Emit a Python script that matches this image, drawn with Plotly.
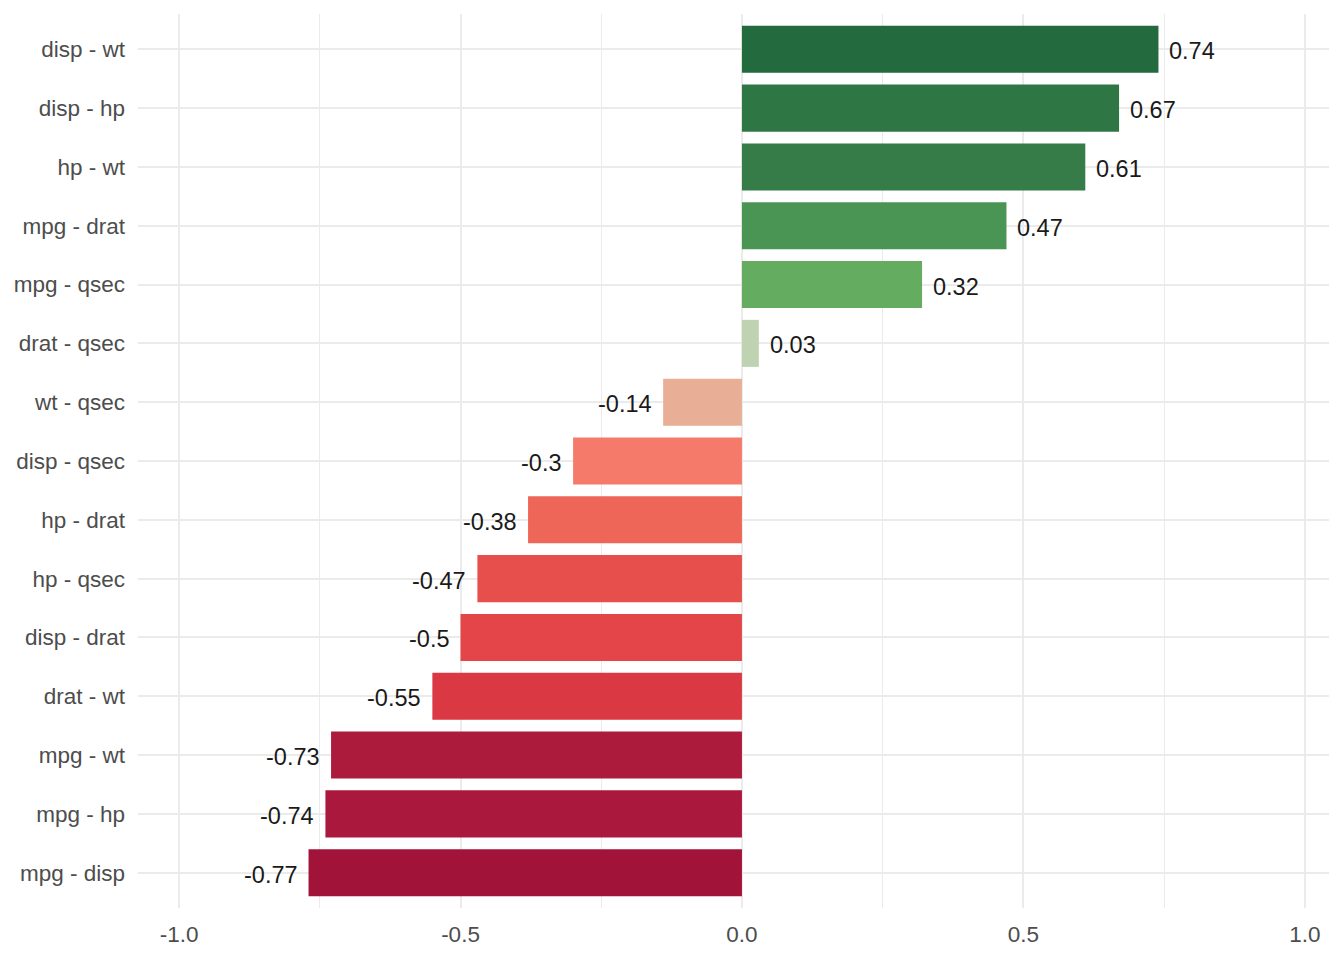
import plotly.graph_objects as go

# Korrelationspaare (von oben nach unten)
pairs = ["disp - wt", "disp - hp", "hp - wt", "mpg - drat", "mpg - qsec",
         "drat - qsec", "wt - qsec", "disp - qsec", "hp - drat", "hp - qsec",
         "disp - drat", "drat - wt", "mpg - wt", "mpg - hp", "mpg - disp"]
corr = [0.74, 0.67, 0.61, 0.47, 0.32, 0.03, -0.14, -0.30, -0.38, -0.47,
        -0.50, -0.55, -0.73, -0.74, -0.77]
labels = ["0.74", "0.67", "0.61", "0.47", "0.32", "0.03", "-0.14", "-0.3",
          "-0.38", "-0.47", "-0.5", "-0.55", "-0.73", "-0.74", "-0.77"]
colors = ["#236a3e", "#2e7744", "#357c48", "#4a9553", "#64ac60", "#bfd3b2",
          "#e8ae96", "#f57a6a", "#ee6657", "#e64f4b", "#e44549", "#da3843",
          "#ac1a3c", "#aa183d", "#a2133a"]

x_ticks = [-1.0, -0.5, 0.0, 0.5, 1.0]
x_ticktext = ["-1.0", "-0.5", "0.0", "0.5", "1.0"]

fig = go.Figure()
fig.add_trace(go.Bar(
    x=corr, y=pairs, orientation="h", width=0.8,
    marker=dict(color=colors, line=dict(width=0)),
    showlegend=False, hoverinfo="x+y",
))

# Wertebeschriftungen neben den Balken
for p, v, t in zip(pairs, corr, labels):
    fig.add_annotation(
        x=v, y=p, text=t, showarrow=False,
        xanchor="left" if v >= 0 else "right",
        xshift=9 if v >= 0 else -9, yshift=-2,
        font=dict(family="Liberation Sans, Arial", size=23.5, color="#1a1a1a"),
    )

# Seite hat 8px Body-Rand -> Figur etwas kleiner
fig.update_layout(
    width=1328, height=944,
    margin=dict(l=130, r=7, t=6, b=44),
    plot_bgcolor="white", paper_bgcolor="white",
    bargap=0.2,
    font=dict(family="Liberation Sans, Arial", size=22.5, color="#4d4d4d"),
)
fig.update_xaxes(
    range=[-1.073, 1.043], tickvals=x_ticks, ticktext=x_ticktext,
    showgrid=True, gridcolor="#ebebeb", gridwidth=2,
    minor=dict(tickvals=[-0.75, -0.25, 0.25, 0.75], showgrid=True,
               gridcolor="#ebebeb", gridwidth=1),
    zeroline=False, showline=False, ticks="", ticklabelstandoff=10,
)
fig.update_yaxes(
    categoryorder="array", categoryarray=pairs,
    range=[len(pairs) - 1 + 0.6, -0.6],
    showgrid=True, gridcolor="#ebebeb", gridwidth=2,
    zeroline=False, showline=False, ticks="", ticklabelstandoff=12,
)

fig.write_html("out.html")
